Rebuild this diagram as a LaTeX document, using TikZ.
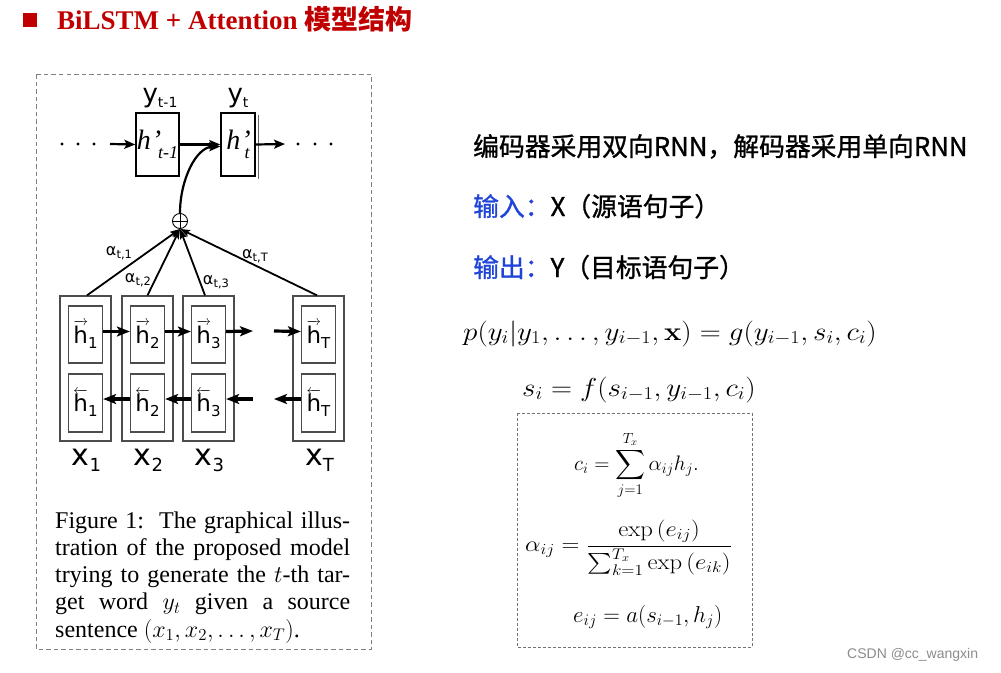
\RequirePackage{fix-cm}
\documentclass[tikz,border=0pt]{standalone}
\usepackage{amsmath}
\usepackage{graphicx}
\usepackage[no-math]{fontspec}
\setmainfont{Liberation Serif}
\newfontfamily\cjk{Noto Sans CJK SC}
\newfontfamily\cjkm{Noto Sans CJK SC}[FakeBold=1]
\newfontfamily\dv{DejaVu Sans}
\newfontfamily\lsans{Liberation Sans}
\usetikzlibrary{arrows.meta,calc}
\definecolor{titlered}{HTML}{C00000}
\definecolor{inblue}{HTML}{1F45D8}
\newcommand\fs[2]{\fontsize{#1}{#2}\selectfont}
\newcommand\hp[2]{{\fs{28}{28}\itshape h\kern1pt’}\kern#2\raisebox{-9pt}{\fs{18}{18}\itshape #1}}
\newcommand\ylab[1]{{\dv\fs{26}{26}y}\raisebox{-5pt}{\dv\fs{14}{14}#1}}
\newcommand\xlab[1]{{\dv\fs{30}{30}x}\raisebox{-6pt}{\dv\fs{18}{18}#1}}
\newcommand\alab[1]{{\dv\fs{16}{16}α}\raisebox{-3pt}{\dv\fs{11.5}{11.5}#1}}
\newcommand\hf[1]{{\fs{14}{14}$\overrightarrow{\hbox{\dv\fs{23}{23}h}}$}\raisebox{-5pt}{\dv\fs{15}{15}#1}}
\newcommand\hb[1]{{\fs{14}{14}$\overleftarrow{\hbox{\dv\fs{23}{23}h}}$}\raisebox{-5pt}{\dv\fs{15}{15}#1}}
\begin{document}
\begin{tikzpicture}[x=1pt,y=-1pt,
  box/.style={draw, line width=1.4pt, inner sep=0pt},
  col/.style={draw=black!70, line width=1.3pt, inner sep=0pt, minimum width=51pt, minimum height=145pt},
  cell/.style={draw=black!70, line width=1.3pt, inner sep=0pt, minimum width=34pt, minimum height=57pt},
  arr/.style={-{Stealth[length=11pt,width=9pt,inset=2.5pt]}, line width=2.2pt},
  harr/.style={-{Stealth[length=13pt,width=10pt,inset=3pt]}, line width=3.2pt},
  att/.style={-{Stealth[length=10pt,width=7pt,inset=2pt]}, line width=1.8pt},
  lbl/.style={inner sep=0pt},
  dashbox/.style={draw=black!50, line width=1pt, dash pattern=on 4.5pt off 3pt},
  dashbox2/.style={draw=black!55, line width=1pt, dash pattern=on 3pt off 2pt},
]
\useasboundingbox (0,0) rectangle (1001,672);
\fill[white] (0,0) rectangle (1001,672);
% title
\fill[titlered] (23,13) rectangle (37,27);
\node[lbl, anchor=base west, text=titlered] (title) at (57,29) {\fs{27}{27}\bfseries BiLSTM + Attention {\cjk\bfseries 模型结构}};
% left frame
\draw[dashbox] (36,74) rectangle (371,649);
% decoder
\node[box, minimum width=43pt, minimum height=63pt] (hp1) at (157.5,144.5) {\hp{t-1}{-3pt}};
\node[box, minimum width=34pt, minimum height=63pt] (hp2) at (238,144.5) {\hp{t}{-6pt}};
\draw[black!60, line width=0.9pt] ([xshift=2.8pt,yshift=-3pt]hp2.north east) -- ([xshift=2.8pt,yshift=-2pt]hp2.south east);
\node[lbl, anchor=base] (y1) at (160,102) {\ylab{t-1}};
\node[lbl, anchor=base] (y2) at (238,102) {\ylab{t}};
\foreach \x in {62,78,94,298,315,331} \fill (\x,144) circle (1.6);
\coordinate (lin) at (110,144);
\coordinate (rout) at (285,144);
\draw[arr] (lin) -- (hp1.west);
\draw[arr] (hp1.east) -- (hp2.west);
\draw[arr] (hp2.east) -- (rout);
\node[circle, draw, line width=0.9pt, minimum size=15pt, inner sep=0pt] (plus) at (180,221) {};
\draw[line width=0.9pt] (plus.north) -- (plus.south) (plus.west) -- (plus.east);
\draw[arr] (plus.north) .. controls (180,180) and (196,147) .. ([yshift=-2pt]hp2.west);
% encoder
\foreach \n/\x in {1/85.5,2/147.5,3/208.5,T/318.5}{
  \node[col] (c\n) at (\x,368.5) {};
  \node[cell] (f\n) at (\x,334.5) {\hf{\n}};
  \node[cell, minimum height=58pt] (b\n) at (\x,403) {\hb{\n}};
  \node[lbl, anchor=base] (x\n) at (\x+1,465) {\xlab{\n}};
}
\coordinate (fm1) at (253,331);
\coordinate (fm2) at (274,331);
\coordinate (bm1) at (253,399);
\coordinate (bm2) at (274,399);
\draw[harr] ([yshift=3pt]f1.east) -- ([yshift=3pt]f2.west);
\draw[harr] ([yshift=3pt]f2.east) -- ([yshift=3pt]f3.west);
\draw[harr] ([yshift=3pt]f3.east) -- (fm1);
\draw[harr] (fm2) -- ([yshift=3pt]fT.west);
\draw[harr] ([yshift=4pt]b2.west) -- ([yshift=4pt]b1.east);
\draw[harr] ([yshift=4pt]b3.west) -- ([yshift=4pt]b2.east);
\draw[harr] (bm1) -- ([yshift=4pt]b3.east);
\draw[harr] ([yshift=4pt]bT.west) -- (bm2);
% attention
\draw[att] ([xshift=1.5pt]c1.north) -- (plus.south);
\draw[att] (c2.north) -- (plus.south);
\draw[att] ([xshift=-3.5pt]c3.north) -- (plus.south);
\draw[att] ([xshift=-1.5pt]cT.north) -- (plus.south);
\node[lbl] (a1) at (119,253) {\alab{t,1}};
\node[lbl] (a2) at (138,280) {\alab{t,2}};
\node[lbl] (a3) at (216,282) {\alab{t,3}};
\node[lbl] (aT) at (255,256) {\alab{t,T}};
% caption
\node[lbl, anchor=base west] (cap) at (55,528) {\fs{24}{27.3}\vtop{\hsize=295pt
  \hbox to 295pt{Figure 1:\ \ The graphical illus-}
  \hbox to 295pt{tration of the proposed model}
  \hbox to 295pt{trying to generate the $t$-th tar-}
  \hbox to 295pt{get word $y_t$ given a source}
  \hbox{sentence $(x_1, x_2, \ldots, x_T)$.}}};
% right texts
\node[lbl, anchor=base west] (t1) at (473,156) {\cjkm\fs{25.8}{25.8}编码器采用双向RNN，解码器采用单向RNN};
\node[lbl, anchor=base west] (t2) at (473,216) {\cjkm\fs{25.8}{25.8}{\color{inblue}输入：}X（源语句子）};
\node[lbl, anchor=base west] (t3) at (473,277) {\cjkm\fs{25.8}{25.8}{\color{inblue}输出：}Y（目标语句子）};
% equations
\node[lbl, anchor=base west] (eq1) at (463,340) {\fs{26}{26}\scalebox{1.12}[1]{$p(y_i|y_1,\ldots,y_{i-1},\mathbf{x})=g(y_{i-1},s_i,c_i)$}};
\node[lbl, anchor=base west] (eq2) at (522,396) {\fs{26}{26}\scalebox{1.12}[1]{$s_i=f(s_{i-1},y_{i-1},c_i)$}};
\draw[dashbox2] (517,413) rectangle (752,647);
\node[lbl, anchor=base west] (eq3) at (574,470) {\fs{21}{21}$\displaystyle c_i=\sum_{j=1}^{T_x}\alpha_{ij}h_j.$};
\node[lbl, anchor=west] (eq4) at (525,548) {\fs{22}{22}\scalebox{1.12}[1]{$\displaystyle \alpha_{ij}=\frac{\exp\left(e_{ij}\right)}{\sum_{k=1}^{T_x}\exp\left(e_{ik}\right)}$}};
\node[lbl, anchor=base west] (eq5) at (573,622) {\fs{23}{23}$e_{ij}=a(s_{i-1},h_j)$};
% watermark
\node[lbl, anchor=base west, text=black!45] (wm) at (847,658) {\lsans\fs{14}{14}CSDN @cc\_wangxin};
\end{tikzpicture}
\end{document}
